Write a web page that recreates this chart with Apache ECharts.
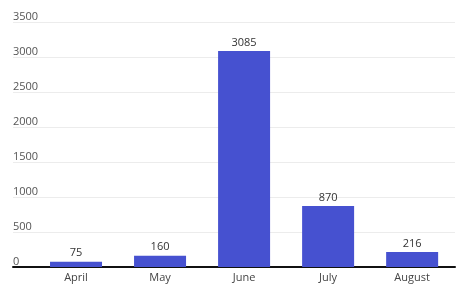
<!DOCTYPE html>
<html>
<head>
<meta charset="utf-8">
<script src="https://cdn.jsdelivr.net/npm/echarts@6/dist/echarts.min.js"></script>
<style>html,body{margin:0;padding:0;background:#fff;}#c{width:474px;height:289px;}</style>
</head>
<body>
<div id="c"></div>
<script>
var categories = ['April', 'May', 'June', 'July', 'August'];
var values = [75, 160, 3085, 870, 216];
var yTicks = [0, 500, 1000, 1500, 2000, 2500, 3000, 3500];

var chart = echarts.init(document.getElementById('c'), null, {renderer: 'canvas'});
var font = '"Open Sans", "Noto Sans", sans-serif';
chart.setOption({
  animation: false,
  grid: {left: 13, right: 19, top: 22, bottom: 22, containLabel: false},
  xAxis: {
    type: 'value',
    min: -0.75, max: 4.51,
    splitLine: {show: false},
    axisLine: {show: true, onZero: false, lineStyle: {color: '#111', width: 2}},
    axisTick: {show: false},
    axisLabel: {
      customValues: [0, 1, 2, 3, 4],
      formatter: function (v) { return categories[Math.round(v)]; },
      color: '#444', fontSize: 11, fontFamily: font, margin: 5
    }
  },
  yAxis: {
    type: 'value',
    min: 0, max: 3500, interval: 500,
    axisLine: {show: false},
    axisTick: {show: false},
    splitLine: {lineStyle: {color: '#ececec', width: 1}},
    axisLabel: {
      inside: true, margin: 0, align: 'left', verticalAlign: 'bottom',
      padding: [0, 0, 0, 0],
      color: '#555', fontSize: 11, fontFamily: font,
      formatter: function (v) { return yTicks.indexOf(v) >= 0 ? String(v) : ''; }
    }
  },
  series: [{
    type: 'bar',
    barWidth: 52,
    itemStyle: {color: '#4651d0'},
    label: {show: true, position: 'top', distance: 3, color: '#333', fontSize: 11, fontFamily: font},
    data: values.map(function (v, i) { return [i, v]; })
  }]
});
</script>
</body>
</html>
